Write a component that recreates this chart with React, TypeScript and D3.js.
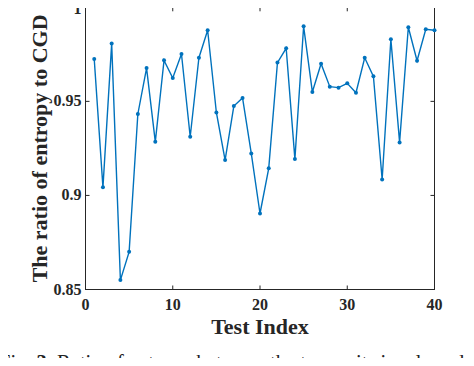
import * as d3 from "d3";
import React, { useRef, useEffect } from "react";

// ratio of entropy to CGD for each test index (1..40)
const ratios = [
  0.9725, 0.9043, 0.9807, 0.855, 0.87, 0.9433, 0.9677, 0.9285, 0.9718, 0.9624,
  0.9752, 0.9312, 0.9732, 0.9878, 0.9441, 0.9188, 0.9475, 0.9518, 0.9223, 0.8904,
  0.9144, 0.9706, 0.9782, 0.9193, 0.9899, 0.955, 0.97, 0.9578, 0.9573, 0.9596,
  0.9546, 0.9732, 0.9633, 0.9085, 0.983, 0.9282, 0.9894, 0.9716, 0.9883, 0.9878,
];
const xTicks = [0, 10, 20, 30, 40];
const yTicks = [0.85, 0.9, 0.95, 1];

const W = 474;
const H = 366;
const margin = { left: 85.5, right: 474 - 434.5, top: 7.3, bottom: 366 - 289.5 };
const serif = "'Liberation Serif', 'Times New Roman', serif";
const axisColor = "#262626";
const lineColor = "#0072BD";

function RatioChart() {
  const ref = useRef<SVGSVGElement>(null);

  useEffect(() => {
    const svg = d3.select(ref.current);
    svg.selectAll("*").remove();

    const x = d3.scaleLinear().domain([0, 40]).range([margin.left, W - margin.right]);
    const y = d3.scaleLinear().domain([0.85, 1]).range([H - margin.bottom, margin.top]);
    const data = ratios.map((v, i) => ({ idx: i + 1, v }));

    // box
    svg.append("rect")
      .attr("x", x(0)).attr("y", y(1))
      .attr("width", x(40) - x(0)).attr("height", y(0.85) - y(1))
      .attr("fill", "white").attr("stroke", axisColor).attr("stroke-width", 1);

    const tl = 4;
    // inward ticks, bottom + top
    xTicks.forEach(t => {
      svg.append("line").attr("x1", x(t)).attr("x2", x(t))
        .attr("y1", y(0.85)).attr("y2", y(0.85) - tl).attr("stroke", axisColor);
      svg.append("line").attr("x1", x(t)).attr("x2", x(t))
        .attr("y1", y(1)).attr("y2", y(1) + tl).attr("stroke", axisColor);
      svg.append("text").attr("x", x(t)).attr("y", 310)
        .attr("text-anchor", "middle").attr("font-family", serif)
        .attr("font-weight", "bold").attr("font-size", 16).attr("fill", axisColor)
        .text(t);
    });
    // inward ticks, left + right
    yTicks.forEach(t => {
      svg.append("line").attr("x1", x(0)).attr("x2", x(0) + tl)
        .attr("y1", y(t)).attr("y2", y(t)).attr("stroke", axisColor);
      svg.append("line").attr("x1", x(40)).attr("x2", x(40) - tl)
        .attr("y1", y(t)).attr("y2", y(t)).attr("stroke", axisColor);
      svg.append("text").attr("x", x(0) - 4).attr("y", Math.max(y(t) + 5, 13.5))
        .attr("text-anchor", "end").attr("font-family", serif)
        .attr("font-weight", "bold").attr("font-size", 16).attr("fill", axisColor)
        .text(d3.format("")(t));
    });

    const line = d3.line<{ idx: number; v: number }>()
      .x(d => x(d.idx)).y(d => y(d.v));

    svg.append("path").datum(data)
      .attr("d", line).attr("fill", "none")
      .attr("stroke", lineColor).attr("stroke-width", 1.4);

    svg.selectAll("circle.pt").data(data).enter()
      .append("circle").attr("class", "pt")
      .attr("cx", d => x(d.idx)).attr("cy", d => y(d.v))
      .attr("r", 2).attr("fill", lineColor);

    // axis titles
    svg.append("text")
      .attr("x", (x(0) + x(40)) / 2).attr("y", 334)
      .attr("text-anchor", "middle").attr("font-family", serif)
      .attr("font-weight", "bold").attr("font-size", 22).attr("fill", axisColor)
      .text("Test Index");

    svg.append("text")
      .attr("transform", `translate(47,${(y(0.85) + y(1)) / 2}) rotate(-90)`)
      .attr("text-anchor", "middle").attr("font-family", serif)
      .attr("font-weight", "bold").attr("font-size", 22).attr("fill", axisColor)
      .text("The ratio of entropy to CGD");

    // caption (cut off at the bottom of the picture, as in the figure)
    const cap = svg.append("text")
      .attr("x", -1).attr("y", 369).attr("font-family", serif)
      .attr("font-size", 20.5).attr("fill", "#222");
    cap.append("tspan").text("Fig. ");
    cap.append("tspan").attr("font-weight", "bold").text("3");
    cap.append("tspan").text(". Ratio of  entropy between the transmit signals and CGD");
  }, []);

  return (
    <svg ref={ref} width={W} height={H} style={{ display: "block" }} />
  );
}

export default function App() {
  return (
    <div style={{ margin: -8, width: W, height: H, overflow: "hidden", background: "white" }}>
      <RatioChart />
    </div>
  );
}
